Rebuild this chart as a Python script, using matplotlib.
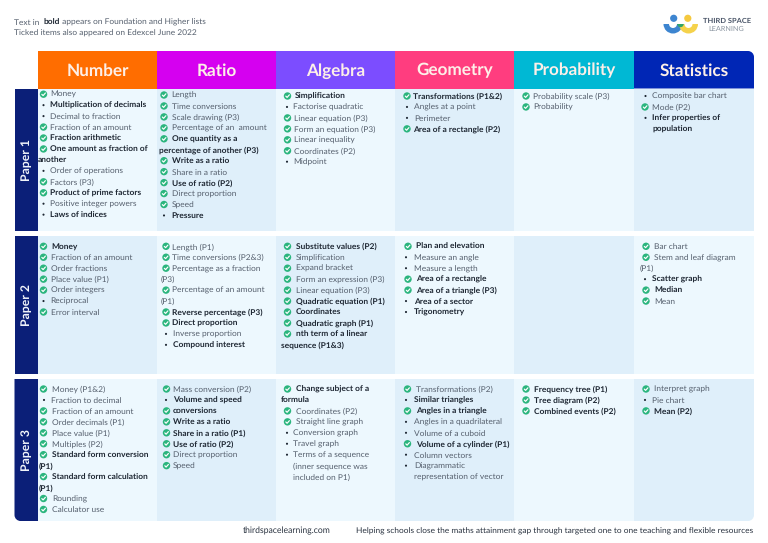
import matplotlib
matplotlib.use("Agg")
import matplotlib.pyplot as plt
from matplotlib.patches import Rectangle, Circle, Wedge, PathPatch
from matplotlib.path import Path

FONT = "Lato"
plt.rcParams["font.family"] = [FONT, "DejaVu Sans"]
plt.rcParams["text.hinting"] = "no_hinting"
plt.rcParams["text.hinting_factor"] = 8

SUBJECTS = ["Number", "Ratio", "Algebra", "Geometry", "Probability", "Statistics"]
HEADER_COLOURS = ["#FF6D00", "#D500F0", "#7C4DFF", "#FF3D7F", "#00B8D4", "#0026B5"]
PAPERS = ["Paper 1", "Paper 2", "Paper 3"]
NOTE_LINE_2 = "Ticked items also appeared on Edexcel June 2022"
SITE = "thirdspacelearning.com"
STRAPLINE = "Helping schools close the maths attainment gap through targeted one to one teaching and flexible resources"

# t tick, b bullet, c wrapped to cell edge, i wrapped to text indent; True = bold
P1_NUMBER = [("t","Money",False),("b","Multiplication of decimals",True),("b","Decimal to fraction",False),
 ("t","Fraction of an amount",False),("t","Fraction arithmetic",True),("t","One amount as fraction of",True),
 ("c","another",True),("b","Order of operations",False),("t","Factors (P3)",False),("t","Product of prime factors",True),
 ("b","Positive integer powers",False),("b","Laws of indices",True)]
P1_RATIO = [("t","Length",False),("t","Time conversions",False),("t","Scale drawing (P3)",False),
 ("t","Percentage of an  amount",False),("t","One quantity as a",True),("c","percentage of another (P3)",True),
 ("t","Write as a ratio",True),("t","Share in a ratio",False),("t","Use of ratio (P2)",True),
 ("t","Direct proportion",False),("t","Speed",False),("b","Pressure",True)]
P1_ALGEBRA = [("t","Simplification",True),("b","Factorise quadratic",False),("t","Linear equation (P3)",False),
 ("t","Form an equation (P3)",False),("t","Linear inequality",False),("t","Coordinates (P2)",False),("b","Midpoint",False)]
P1_GEOMETRY = [("t","Transformations (P1&2)",True),("b","Angles at a point",False),("b","Perimeter",False),
 ("t","Area of a rectangle (P2)",True)]
P1_PROBABILITY = [("t","Probability scale (P3)",False),("t","Probability",False)]
P1_STATISTICS = [("b","Composite bar chart",False),("t","Mode (P2)",False),("b","Infer properties of",True),("i","population",True)]

P2_NUMBER = [("t","Money",True),("t","Fraction of an amount",False),("t","Order fractions",False),("t","Place value (P1)",False),
 ("t","Order integers",False),("b","Reciprocal",False),("t","Error interval",False)]
P2_RATIO = [("t","Length (P1)",False),("t","Time conversions (P2&3)",False),("t","Percentage as a fraction",False),("c","(P3)",False),
 ("t","Percentage of an amount",False),("c","(P1)",False),("t","Reverse percentage (P3)",True),("t","Direct proportion",True),
 ("b","Inverse proportion",False),("b","Compound interest",True)]
P2_ALGEBRA = [("t","Substitute values (P2)",True),("t","Simplification",False),("t","Expand bracket",False),
 ("t","Form an expression (P3)",False),("t","Linear equation (P3)",False),("t","Quadratic equation (P1)",True),
 ("t","Coordinates",True),("t","Quadratic graph (P1)",True),("t","nth term of a linear",True),("c","sequence (P1&3)",True)]
P2_GEOMETRY = [("t","Plan and elevation",True),("b","Measure an angle",False),("b","Measure a length",False),
 ("t","Area of a rectangle",True),("t","Area of a triangle (P3)",True),("b","Area of a sector",True),("b","Trigonometry",True)]
P2_PROBABILITY = []
P2_STATISTICS = [("t","Bar chart",False),("t","Stem and leaf diagram",False),("c","(P1)",False),("b","Scatter graph",True),
 ("t","Median",True),("t","Mean",False)]

P3_NUMBER = [("t","Money (P1&2)",False),("b","Fraction to decimal",False),("t","Fraction of an amount",False),
 ("t","Order decimals (P1)",False),("t","Place value (P1)",False),("t","Multiples (P2)",False),
 ("t","Standard form conversion",True),("c","(P1)",True),("t","Standard form calculation",True),("c","(P1)",True),
 ("t","Rounding",False),("t","Calculator use",False)]
P3_RATIO = [("t","Mass conversion (P2)",False),("b","Volume and speed",True),("t","conversions",True),("t","Write as a ratio",True),
 ("t","Share in a ratio (P1)",True),("t","Use of ratio (P2)",True),("t","Direct proportion",False),("t","Speed",False)]
P3_ALGEBRA = [("t","Change subject of a",True),("c","formula",True),("t","Coordinates (P2)",False),("t","Straight line graph",False),
 ("b","Conversion graph",False),("b","Travel graph",False),("b","Terms of a sequence",False),("i","(inner sequence was",False),("i","included on P1)",False)]
P3_GEOMETRY = [("t","Transformations (P2)",False),("b","Similar triangles",True),("t","Angles in a triangle",True),
 ("b","Angles in a quadrilateral",False),("b","Volume of a cuboid",False),("t","Volume of a cylinder (P1)",True),
 ("b","Column vectors",False),("b","Diagrammatic",False),("i","representation of vector",False)]
P3_PROBABILITY = [("t","Frequency tree (P1)",True),("t","Tree diagram (P2)",True),("t","Combined events (P2)",True)]
P3_STATISTICS = [("t","Interpret graph",False),("b","Pie chart",False),("t","Mean (P2)",True)]

CELLS = [[P1_NUMBER,P1_RATIO,P1_ALGEBRA,P1_GEOMETRY,P1_PROBABILITY,P1_STATISTICS],
         [P2_NUMBER,P2_RATIO,P2_ALGEBRA,P2_GEOMETRY,P2_PROBABILITY,P2_STATISTICS],
         [P3_NUMBER,P3_RATIO,P3_ALGEBRA,P3_GEOMETRY,P3_PROBABILITY,P3_STATISTICS]]

# layout, in reference pixels
COL_X = [38, 157, 276, 395, 514, 634, 754]
ROW_Y = [(88.5, 231), (236, 373.5), (379, 521)]
HEAD_Y = (51, 88.5)
LEFT_X = 14.5
LINE = 10.95
BASE = 2.9
LIGHT, DARK = "#EDF8FE", "#DFEFFA"
# first line y, tick x, tick text x, bullet x, bullet text x, wrap x
LAY = [[(94.2,43.5,50.5,43.5,50,38),(95,164,171.5,164,171,159),(96,287.5,294.5,287,293,281),(96,407,413,407,414,408),(96,526,533,526,533,520),(96,645,652,645.5,652,640)],
       [(246.3,43.5,51,43.5,50,38),(246.3,166,172,166,173,160.5),(246.3,287.5,296,287,293,281),(246.3,408,416.5,406,414,400),(246.3,526,533,526,533,520),(246.3,646,654.5,645,652,640)],
       [(389,43.5,52,44,51,39),(389,166.5,173,166,173,160),(389,287.5,296,287,293,281),(389,407.5,416,406,414,400),(389,526,534,526,534,520),(389,646,654.5,645,652,640)]]
BODY = 6.0
GREY, INK = "#56606E", "#1E2733"
GREEN = "#2BB57E"
NAVY = "#0B1F78"

fig = plt.figure(figsize=(7.68, 5.43), dpi=100)
ax = fig.add_axes([0, 0, 1, 1])
ax.set_xlim(0, 768); ax.set_ylim(543, 0); ax.axis("off")

def rounded(x0, y0, x1, y1, color, corners=(), r=6):
    k = 0.55 * r
    tl, tr, br, bl = [c in corners for c in ("tl", "tr", "br", "bl")]
    v, c = [], []
    v += [(x0 + (r if tl else 0), y0)]; c += [Path.MOVETO]
    v += [(x1 - (r if tr else 0), y0)]; c += [Path.LINETO]
    if tr: v += [(x1 - r + k, y0), (x1, y0 + r - k), (x1, y0 + r)]; c += [Path.CURVE4] * 3
    v += [(x1, y1 - (r if br else 0))]; c += [Path.LINETO]
    if br: v += [(x1, y1 - r + k), (x1 - r + k, y1), (x1 - r, y1)]; c += [Path.CURVE4] * 3
    v += [(x0 + (r if bl else 0), y1)]; c += [Path.LINETO]
    if bl: v += [(x0 + r - k, y1), (x0, y1 - r + k), (x0, y1 - r)]; c += [Path.CURVE4] * 3
    v += [(x0, y0 + (r if tl else 0))]; c += [Path.LINETO]
    if tl: v += [(x0, y0 + r - k), (x0 + r - k, y0), (x0 + r, y0)]; c += [Path.CURVE4] * 3
    v += [v[0]]; c += [Path.CLOSEPOLY]
    ax.add_patch(PathPatch(Path(v, c), fc=color, ec="none", lw=0))

def tick(x, y):
    ax.add_patch(Circle((x, y), 3.7, fc=GREEN, ec="none", zorder=3))
    ax.plot([x - 1.7, x - 0.4, x + 1.9], [y + 0.1, y + 1.4, y - 1.2], color="white", lw=0.85, zorder=4,
            solid_capstyle="round", solid_joinstyle="round")

def bullet(x, y):
    ax.add_patch(Circle((x, y), 1.05, fc="#1E2733", ec="none", zorder=3))

# top note
renderer = fig.canvas.get_renderer()
x = 14.5
for part, w in (("Text in ", "normal"), ("bold", "bold"), (" appears on Foundation and Higher lists", "normal")):
    t = ax.text(x, 22 + BASE, part, fontsize=BODY, fontweight=w, color=GREY if w == "normal" else INK, va="baseline", ha="left")
    bb = t.get_window_extent(renderer)
    x += bb.width + (1.5 if part.endswith(" ") else 0)
ax.text(14.5, 33 + BASE, NOTE_LINE_2, fontsize=BODY, color=GREY, va="baseline", ha="left")

# logo
ax.add_patch(Circle((673.7, 18.3), 3.6, fc="#3D85D0", ec="none"))
ax.add_patch(Circle((687.8, 18.3), 3.6, fc="#F5C93F", ec="none"))
ax.add_patch(Wedge((673, 24), 9.5, 0, 180, width=5.5, fc="#3D85D0", ec="none"))
ax.add_patch(Wedge((688.5, 24), 9.5, 0, 180, width=5.5, fc="#F5D24B", ec="none"))
ax.add_patch(Wedge((680.5, 24), 3.2, 0, 180, fc="#2FA36B", ec="none"))
ax.text(703, 21.3, "THIRD SPACE", fontsize=5.4, fontweight="bold", color="#4A5568", va="center", ha="left")
ax.text(708, 29.3, "LEARNING", fontsize=5.2, color="#8A94A0", va="center", ha="left")

# headers
for i, (name, col) in enumerate(zip(SUBJECTS, HEADER_COLOURS)):
    rounded(COL_X[i], HEAD_Y[0], COL_X[i + 1], HEAD_Y[1], col, corners=("tr",) if i == 5 else ())
    ax.text((COL_X[i] + COL_X[i + 1]) / 2, 75.5, name, fontsize=12.3, fontweight="bold", color="#FDEFE8", ha="center", va="baseline")

# rows
for r, (y0, y1) in enumerate(ROW_Y):
    rounded(LEFT_X, y0, COL_X[0], y1, NAVY, corners=("bl",) if r == 2 else ())
    ax.text((LEFT_X + COL_X[0]) / 2, (y0 + y1) / 2, PAPERS[r], rotation=90, fontsize=8.8, fontweight="bold",
            color="#F2F5FB", ha="center", va="center")
    for c in range(6):
        shade = DARK if (r + c) % 2 == 1 else LIGHT
        rounded(COL_X[c], y0, COL_X[c + 1], y1, shade, corners=("br",) if (r == 2 and c == 5) else ())
        first, tx, ttx, bx, btx, wrap = LAY[r][c]
        for n, (kind, text, heavy) in enumerate(CELLS[r][c]):
            y = first + n * LINE
            if kind == "t":
                tick(tx, y); xt = ttx
            elif kind == "b":
                bullet(bx, y); xt = btx
            elif kind == "i":
                xt = btx
            else:
                xt = wrap
            ax.text(xt, y + BASE, text, fontsize=BODY, fontweight="bold" if heavy else "normal",
                    color=INK if heavy else GREY, va="baseline", ha="left", zorder=5)

# footer
ax.text(243, 533.5, SITE, fontsize=6.2, color="#2A3340", va="baseline", ha="left")
ax.text(356, 533.5, STRAPLINE, fontsize=6.0, color="#2A3340", va="baseline", ha="left")

fig.savefig("out.png", dpi=100)
